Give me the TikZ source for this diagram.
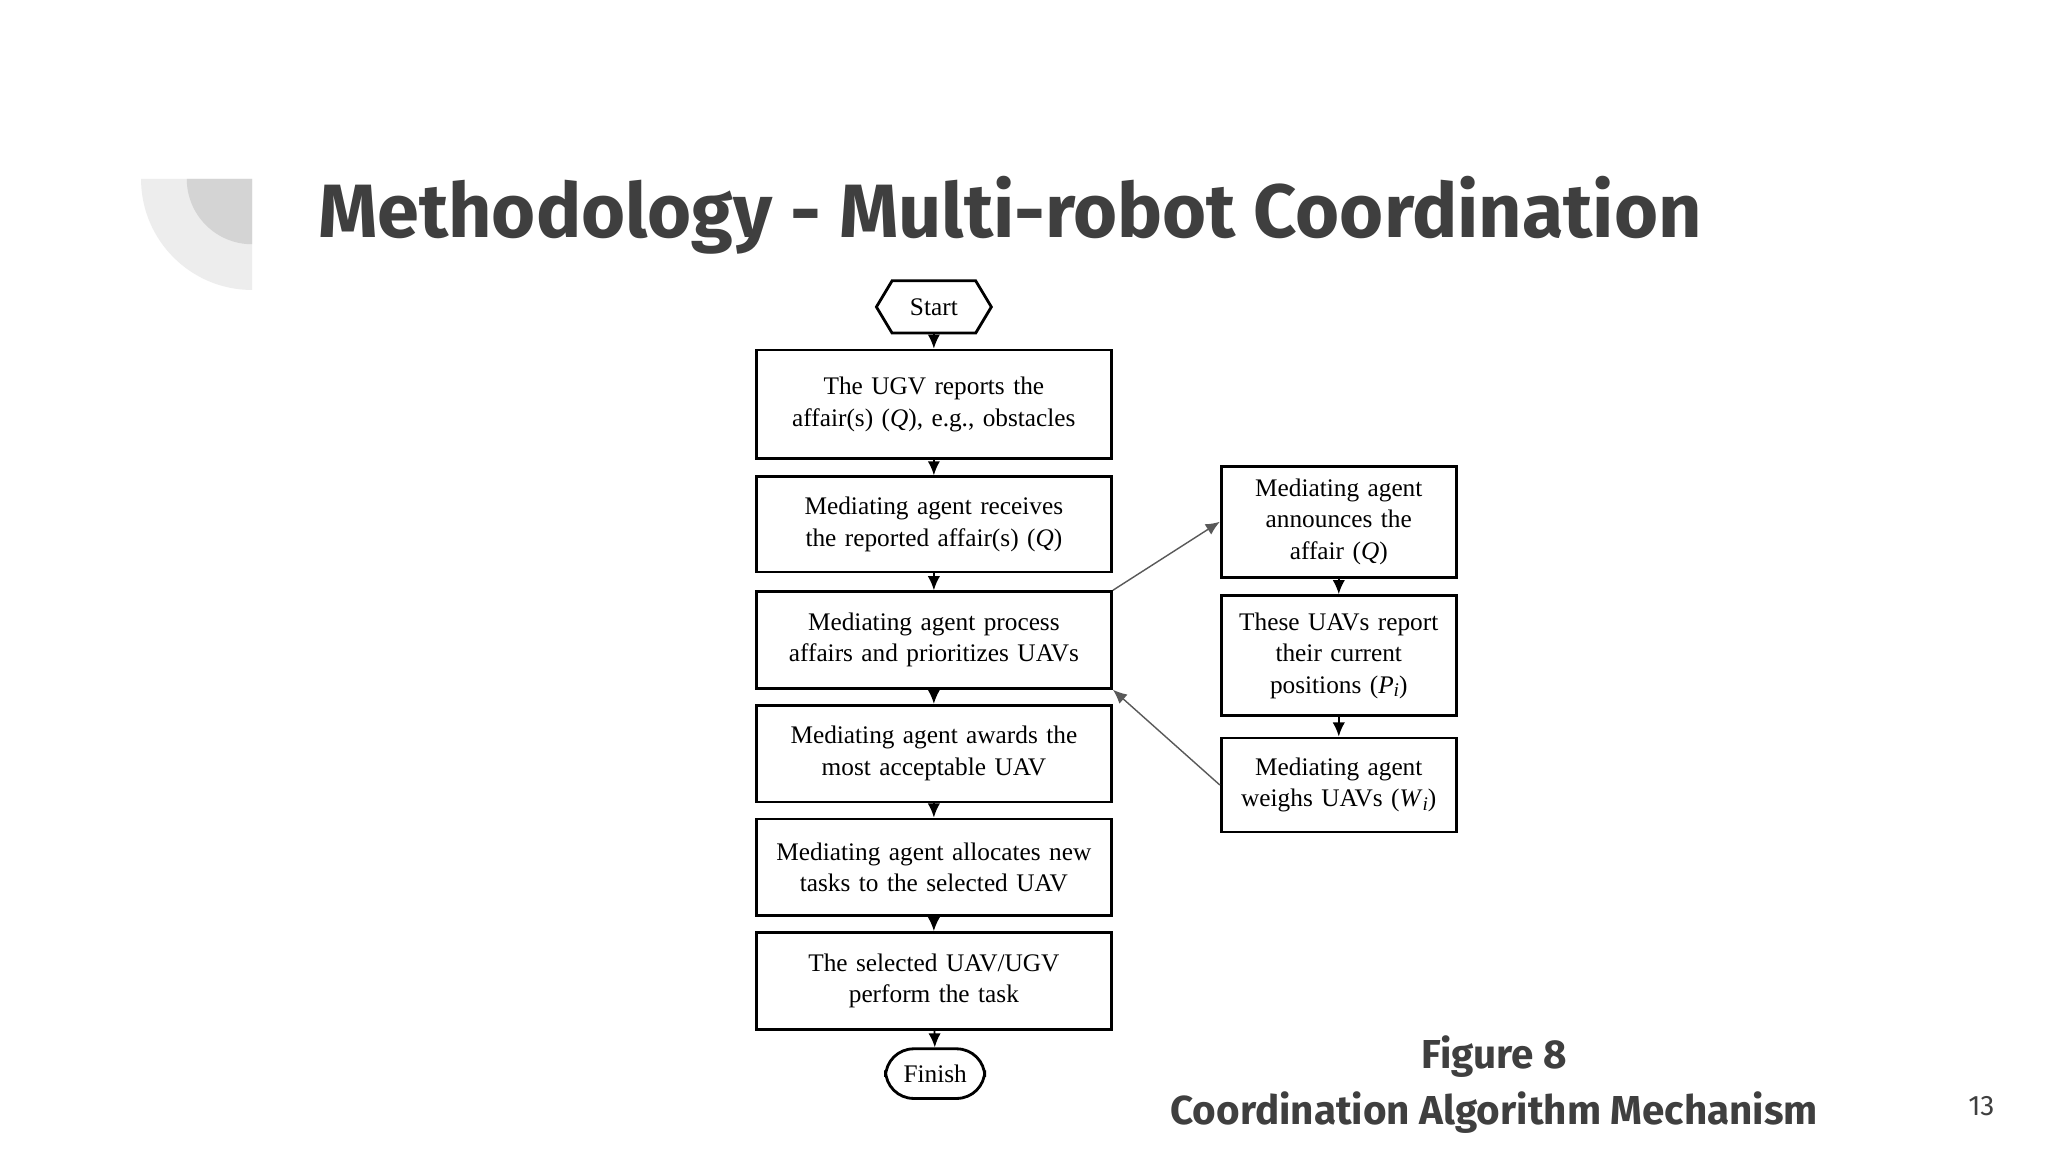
\documentclass[tikz,border=0pt]{standalone}
\usepackage{fontspec}
\setmainfont{Liberation Serif}
\newfontfamily\titlefont{Fira Sans}
\usetikzlibrary{arrows.meta}
\definecolor{tgray}{HTML}{3F3F3F}
\newcommand{\mi}[1]{\textit{#1}}
\newcommand{\msub}[2]{\textit{#1}\raisebox{-0.3ex}{\fontsize{5.5}{6}\selectfont\textit{#2}}}
\begin{document}
\begin{tikzpicture}[x=0.013061cm,y=-0.013061cm,
  box/.style={draw,line width=0.8pt,align=center,font=\fontsize{7.2}{9}\selectfont,inner sep=0pt},
  arr/.style={-{Latex[length=4pt,width=3.5pt]},line width=0.5pt},
  sarr/.style={-{Latex[length=4pt,width=3.5pt]},line width=0.4pt,gray!70!black}]
\useasboundingbox[fill=white] (0,0) rectangle (1568,882);
\fill[black!7] (193,137) -- (108,137) arc[start angle=180,end angle=90,radius=85] -- cycle;
\fill[black!17] (193,137) -- (143,137) arc[start angle=180,end angle=90,radius=50] -- cycle;
\node[anchor=west,text=tgray,font=\titlefont\bfseries\fontsize{21.5}{26}\selectfont] (title) at (234,165) {Methodology - Multi-robot Coordination};
% start hexagon
\node[font=\fontsize{7.2}{9}\selectfont] (start) at (715,235) {Start};
\draw[line width=0.8pt] (671,235) -- (683,215) -- (747,215) -- (759,235) -- (747,255) -- (683,255) -- cycle;
\coordinate (sb) at (715,255);
\node[box,text width=260*0.013061cm,minimum width=272*0.013061cm,minimum height=83*0.013061cm] (b1) at (715,309.5) {The UGV reports the\\affair(s) (\mi{Q}), e.g., obstacles};
\node[box,text width=260*0.013061cm,minimum width=272*0.013061cm,minimum height=73*0.013061cm] (b2) at (715,401.5) {Mediating agent receives\\the reported affair(s) (\mi{Q})};
\node[box,text width=260*0.013061cm,minimum width=272*0.013061cm,minimum height=74*0.013061cm] (b3) at (715,490) {Mediating agent process\\affairs and prioritizes UAVs};
\node[box,text width=260*0.013061cm,minimum width=272*0.013061cm,minimum height=74*0.013061cm] (b4) at (715,577) {Mediating agent awards the\\most acceptable UAV};
\node[box,text width=266*0.013061cm,minimum width=272*0.013061cm,minimum height=74*0.013061cm] (b5) at (715,664) {Mediating agent allocates new\\tasks to the selected UAV};
\node[box,text width=260*0.013061cm,minimum width=272*0.013061cm,minimum height=74*0.013061cm] (b6) at (715,751) {The selected UAV/UGV\\perform the task};
\node[box,rounded corners=8pt,minimum width=76*0.013061cm,minimum height=38*0.013061cm] (fin) at (716,822) {Finish};
\node[box,text width=176*0.013061cm,minimum width=180*0.013061cm,minimum height=85*0.013061cm] (r1) at (1025,399.5) {Mediating agent\\announces the\\affair (\mi{Q})};
\node[box,text width=176*0.013061cm,minimum width=180*0.013061cm,minimum height=92*0.013061cm] (r2) at (1025,502) {These UAVs report\\their current\\positions (\msub{P}{i})};
\node[box,text width=176*0.013061cm,minimum width=180*0.013061cm,minimum height=72*0.013061cm] (r3) at (1025,601) {Mediating agent\\weighs UAVs (\msub{W}{i})};
\draw[arr] (sb) -- (b1);
\draw[arr] (b1) -- (b2);
\draw[arr] (b2) -- (b3);
\draw[arr] (b3) -- (b4);
\draw[arr] (b4) -- (b5);
\draw[arr] (b5) -- (b6);
\draw[arr] (b6) -- (fin);
\draw[arr] (r1) -- (r2);
\draw[arr] (r2) -- (r3);
\draw[sarr] (b3.north east) -- (r1.west);
\draw[sarr] (r3.west) -- (b3.south east);
\node[text=tgray,font=\titlefont\bfseries\fontsize{11.5}{14}\selectfont] (fig) at (1144,809) {Figure 8};
\node[text=tgray,font=\titlefont\bfseries\fontsize{11.5}{14}\selectfont] (cap) at (1144,852) {Coordination Algorithm Mechanism};
\node[text=tgray,font=\titlefont\fontsize{8}{10}\selectfont] (pg) at (1517,847) {13};
\end{tikzpicture}
\end{document}
